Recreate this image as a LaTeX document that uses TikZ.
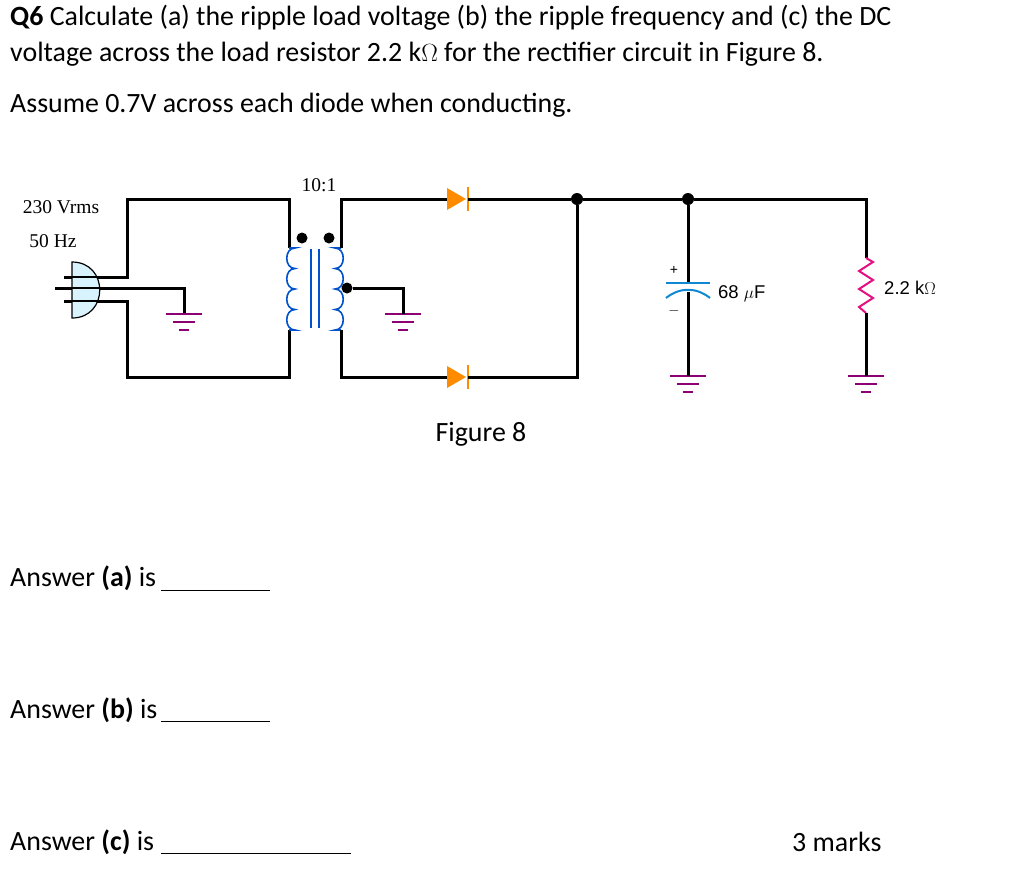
\documentclass[tikz,border=0pt]{standalone}
\usepackage{fontspec}
\setmainfont{Carlito}
\newfontfamily\serf{Liberation Serif}
\newfontfamily\sanf{Liberation Sans}
\begin{document}
\begin{tikzpicture}[x=1pt,y=-1pt,
  wire/.style={line width=3pt,black},
  gnd/.style={line width=2.2pt,violet!80!purple},
  coil/.style={line width=1.6pt,blue!60!cyan!80!black},
  txt/.style={anchor=west,inner sep=0pt,font=\fontsize{27.9}{32}\selectfont},
  lbls/.style={inner sep=0pt,font=\serf\fontsize{19.5}{22}\selectfont},
  lbla/.style={inner sep=0pt,anchor=west,font=\sanf\fontsize{18.5}{22}\selectfont},
  dot/.style={circle,fill=black,inner sep=0pt,minimum size=12pt},
  sdot/.style={circle,fill=black,inner sep=0pt,minimum size=11pt},
  diode/.style={fill=orange!90!yellow,draw=none}]
\useasboundingbox (0,0) rectangle (1024,895);
\node[txt] (q1) at (10,18) {\textbf{Q6} Calculate (a) the ripple load voltage (b) the ripple frequency and (c) the DC};
\node[txt] (q2) at (10,54) {voltage across the load resistor 2.2 k$\Omega$ for the rectifier circuit in Figure 8.};
\node[txt] (q3) at (10,105) {Assume 0.7V across each diode when conducting.};
% labels
\node[lbls] (v) at (61,207) {230 Vrms};
\node[lbls] (f) at (53,241) {50 Hz};
\node[lbls] (r) at (319,185) {10:1};
% primary
\draw[wire] (64,277) -- (127,277) -- (127,199) -- (289,199) -- (289,248);
\draw[wire] (64,301) -- (127,301) -- (127,377) -- (289,377) -- (289,330);
\draw[wire] (55,288) -- (184,288) -- (184,314);
\draw[fill=cyan!15,line width=1.2pt] (72,262) .. controls (109,262) and (109,318) .. (72,318) -- cycle;
\draw[wire,line width=2.6pt] (64,277) -- (127,277) (55,288) -- (103,288) (64,301) -- (127,301);
\foreach \x/\y in {184/314,403/314,688/376,866/376} {\draw[gnd] (\x-18,\y) -- (\x+18,\y) (\x-11,\y+8) -- (\x+11,\y+8) (\x-5,\y+16) -- (\x+5,\y+16);}
% transformer
\draw[coil] (289,248) -- (295,248)
  .. controls (284,248) and (284,268.5) .. (295,268.5)
  .. controls (284,268.5) and (284,289) .. (295,289)
  .. controls (284,289) and (284,309.5) .. (295,309.5)
  .. controls (284,309.5) and (284,330) .. (295,330) -- (289,330);
\draw[coil] (341,248) -- (335,248)
  .. controls (346,248) and (346,268.5) .. (335,268.5)
  .. controls (346,268.5) and (346,289) .. (335,289)
  .. controls (346,289) and (346,309.5) .. (335,309.5)
  .. controls (346,309.5) and (346,330) .. (335,330) -- (341,330);
\draw[coil,line width=2.4pt] (311,249) -- (311,328) (319,249) -- (319,328);
\node[sdot] (d1) at (302,238) {};
\node[sdot] (d2) at (329,238) {};
\node[sdot] (ct) at (347,288) {};
\draw[wire] (ct) -- (403,288) -- (403,314);
% secondary
\draw[wire] (341,248) -- (341,199) -- (448,199);
\draw[wire] (341,330) -- (341,377) -- (448,377);
\foreach \y in {199,377} {\fill[diode] (447,\y-11) -- (466,\y) -- (447,\y+11) -- cycle;
  \draw[orange!90!yellow,line width=2.5pt] (468,\y-12) -- (468,\y+12);}
\node[dot] (j1) at (577,199) {};
\node[dot] (j2) at (688,199) {};
\draw[wire] (468,199) -- (j1) -- (j2) -- (866,199) -- (866,258);
\draw[wire] (468,377) -- (577,377) -- (j1);
% capacitor
\draw[wire] (j2) -- (688,283) (688,292) -- (688,376);
\draw[line width=2pt,cyan!70!blue] (666,283) -- (710,283);
\draw[line width=2pt,cyan!70!blue] (666,298) .. controls (680,287) and (696,287) .. (710,298);
\node[inner sep=0pt,font=\sanf\fontsize{14}{16}\selectfont] (pl) at (674,270) {+};
\node[inner sep=0pt,font=\sanf\fontsize{14}{16}\selectfont] (mi) at (674,311) {$-$};
\node[lbla] (c) at (718,294) {68 $\mu$F};
% resistor
\draw[line width=2pt,magenta!80!purple] (866,258) -- (873,262) -- (859,271) -- (873,280) -- (859,289) -- (873,298) -- (859,307) -- (866,313);
\draw[wire] (866,313) -- (866,376);
\node[lbla] (rl) at (884,288) {2.2 k$\Omega$};
% answers
\node[txt,anchor=center] (fig) at (481,434) {Figure 8};
\node[txt] (a) at (10,578) {Answer \textbf{(a)} is};
\node[txt] (b) at (10,710) {Answer \textbf{(b)} is};
\node[txt] (cc) at (10,842) {Answer \textbf{(c)} is};
\coordinate (la) at (270,590); \coordinate (la0) at (161,590);
\coordinate (lb) at (270,721); \coordinate (lb0) at (161,721);
\coordinate (lc) at (351,853); \coordinate (lc0) at (161,853);
\draw[line width=1pt] (la0) -- (la) (lb0) -- (lb) (lc0) -- (lc);
\node[txt] (m) at (792,842) {3 marks};
\end{tikzpicture}
\end{document}
